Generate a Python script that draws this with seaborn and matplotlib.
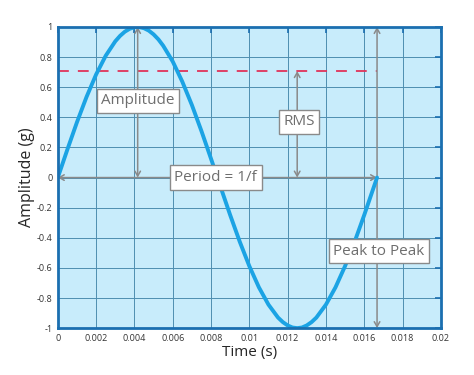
import matplotlib
matplotlib.use("Agg")
import matplotlib.pyplot as plt
import seaborn as sns
import pandas as pd

# sampled waveform (60 Hz, amplitude 1 g)
time_s = [0, 0.0005, 0.001, 0.0015, 0.002, 0.0025, 0.003, 0.00325, 0.0035, 0.00375,
          0.004, 0.00417, 0.00425, 0.0045, 0.00475, 0.005, 0.00525, 0.0055, 0.006, 0.0065,
          0.007, 0.0075, 0.008, 0.0085, 0.009, 0.0095, 0.01, 0.0105, 0.011, 0.0115,
          0.01175, 0.012, 0.01225, 0.0125, 0.01275, 0.013, 0.01325, 0.0135, 0.014, 0.0145,
          0.015, 0.0155, 0.016, 0.0165, 0.01667]
amplitude_g = [0, 0.187, 0.368, 0.536, 0.685, 0.809, 0.905, 0.941, 0.969, 0.988,
               0.998, 1.0, 0.999, 0.992, 0.976, 0.951, 0.918, 0.876, 0.771, 0.637,
               0.482, 0.309, 0.125, -0.063, -0.249, -0.426, -0.588, -0.729, -0.844, -0.930,
               -0.960, -0.982, -0.996, -1.0, -0.996, -0.982, -0.960, -0.930, -0.844, -0.729,
               -0.588, -0.426, -0.249, -0.063, 0]

x_ticks = [0, 0.002, 0.004, 0.006, 0.008, 0.01, 0.012, 0.014, 0.016, 0.018, 0.02]
x_tick_labels = ["0", "0.002", "0.004", "0.006", "0.008", "0.01", "0.012", "0.014",
                 "0.016", "0.018", "0.02"]
y_ticks = [-1, -0.8, -0.6, -0.4, -0.2, 0, 0.2, 0.4, 0.6, 0.8, 1]
y_tick_labels = ["-1", "-0.8", "-0.6", "-0.4", "-0.2", "0", "0.2", "0.4", "0.6", "0.8", "1"]

period = 0.01667
rms = 0.707
peak_time = 0.00417
rms_time = 0.0125

if __name__ == "__main__":
    sns.set_style("white")
    plt.rcParams['font.family'] = ['Open Sans', 'DejaVu Sans']

    df = pd.DataFrame({'Time': time_s, 'Amp': amplitude_g})

    fig = plt.figure(figsize=(4.74, 3.75), dpi=100)
    ax = fig.add_axes([0.122, 0.125, 0.808, 0.803])
    ax.set_facecolor('#c8ecfb')

    sns.lineplot(data=df, x='Time', y='Amp', ax=ax, color='#1ba3e4', linewidth=2.8,
                 solid_joinstyle='round', solid_capstyle='round', zorder=4)

    ax.plot([0, period], [rms, rms], color='#e0335a', linestyle=(0, (6, 5)), linewidth=1.3, zorder=3)

    grey = '#8a8a8a'
    arrow = dict(arrowstyle='<->,head_length=0.35,head_width=0.2', color=grey, lw=1.1,
                 shrinkA=0, shrinkB=0)
    ax.annotate('', xy=(peak_time, 1), xytext=(peak_time, 0), arrowprops=arrow, zorder=3)
    ax.annotate('', xy=(0, 0), xytext=(period, 0), arrowprops=arrow, zorder=3)
    ax.annotate('', xy=(rms_time, rms), xytext=(rms_time, 0), arrowprops=arrow, zorder=3)
    ax.annotate('', xy=(period, 1), xytext=(period, -1), arrowprops=arrow, zorder=3)

    box = dict(boxstyle='square,pad=0.3', fc='white', ec=grey, lw=1)
    lab = dict(ha='center', va='center', fontsize=11, color='#6e6e6e', bbox=box, zorder=5)
    ax.text(0.00418, 0.51, 'Amplitude', **lab)
    ax.text(0.0126, 0.37, 'RMS', **lab)
    ax.text(0.00825, 0.0, 'Period = 1/f', **lab)
    ax.text(0.01676, -0.49, 'Peak to Peak', **lab)

    ax.set_xlim(0, 0.02)
    ax.set_ylim(-1, 1)
    ax.set_xticks(x_ticks)
    ax.set_xticklabels(x_tick_labels)
    ax.set_yticks(y_ticks)
    ax.set_yticklabels(y_tick_labels)
    ax.grid(True, color='#4f8fb0', linewidth=0.7)
    ax.set_axisbelow(True)
    ax.tick_params(axis='both', direction='in', length=4, width=1.2, color='#1b6fb0',
                   labelsize=6.5, labelcolor='#333333', top=True, right=True, pad=4)

    for s in ax.spines.values():
        s.set_color('#1b6fb0')
        s.set_linewidth(2)
        s.set_zorder(6)

    ax.set_xlabel('Time (s)', fontsize=11, labelpad=2)
    ax.set_ylabel('Amplitude (g)', fontsize=11.5, labelpad=1)

    fig.savefig('out.png', dpi=100)
